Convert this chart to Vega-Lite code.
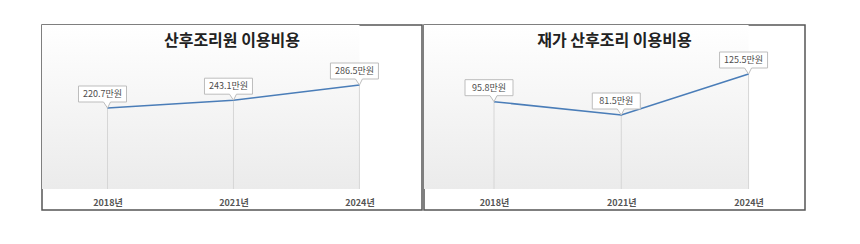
{
  "$schema": "https://vega.github.io/schema/vega-lite/v6.json",
  "padding": {"left": 41, "top": 24, "right": 0, "bottom": 0},
  "background": "#ffffff",
  "spacing": 0,
  "config": {
    "font": "Noto Sans CJK KR",
    "view": {"stroke": "#555555", "strokeWidth": 1.5},
    "title": {"font": "Noto Sans CJK KR", "fontSize": 16, "fontWeight": "bold", "color": "#222222", "anchor": "middle", "baseline": "top", "offset": -24}
  },
  "datasets": {
    "a": [
      {"year": 2018, "value": 220.7, "label": "220.7만원"},
      {"year": 2021, "value": 243.1, "label": "243.1만원"},
      {"year": 2024, "value": 286.5, "label": "286.5만원"}
    ],
    "b": [
      {"year": 2018, "value": 95.8, "label": "95.8만원"},
      {"year": 2021, "value": 81.5, "label": "81.5만원"},
      {"year": 2024, "value": 125.5, "label": "125.5만원"}
    ]
  },
  "hconcat": [
    {
      "width": 380,
      "height": 185,
      "title": {"text": "산후조리원 이용비용"},
      "data": {"name": "a"},
      "encoding": {
        "x": {"field": "year", "type": "quantitative", "scale": {"domain": [2016.44, 2025.49], "nice": false},
          "axis": {"values": [2018, 2021, 2024], "labelExpr": "datum.value + '년'", "title": null, "domain": false, "ticks": false, "grid": false, "labelPadding": -12, "labelFontSize": 9, "labelFontWeight": "bold", "labelColor": "#555555", "labelFont": "Noto Sans CJK KR"}}
      },
      "layer": [
        {
          "mark": {"type": "rect", "fill": {"x1": 0, "y1": 0, "x2": 0, "y2": 1, "gradient": "linear", "stops": [{"offset": 0, "color": "#ffffff"}, {"offset": 1, "color": "#ebebeb"}]}},
          "encoding": {
            "y": {"datum": 458.2, "type": "quantitative", "scale": {"domain": [-71.1, 458.2], "nice": false, "zero": false}, "axis": null},
            "y2": {"datum": -11}
          }
        },
        {
          "mark": {"type": "rule", "color": "#d6d6d6", "strokeWidth": 1},
          "encoding": {
            "y": {"field": "value", "type": "quantitative"},
            "y2": {"datum": -11}
          }
        },
        {
          "mark": {"type": "line", "color": "#4a7db8", "strokeWidth": 1.6},
          "encoding": {"y": {"field": "value", "type": "quantitative"}}
        },
        {
          "mark": {"type": "point", "shape": "M-29,-22 H19 V-6 H3 L0,0 L-4,-6 H-29 Z", "size": 4, "filled": true, "fill": "#ffffff", "stroke": "#bdbdbd", "strokeWidth": 1, "opacity": 1},
          "encoding": {"y": {"field": "value", "type": "quantitative"}}
        },
        {
          "mark": {"type": "text", "dx": -5, "dy": -14, "fontSize": 9, "color": "#4d4d4d", "font": "Noto Sans CJK KR"},
          "encoding": {"y": {"field": "value", "type": "quantitative"}, "text": {"field": "label"}}
        }
      ]
    },
    {
      "width": 381,
      "height": 185,
      "title": {"text": "재가 산후조리 이용비용"},
      "data": {"name": "b"},
      "encoding": {
        "x": {"field": "year", "type": "quantitative", "scale": {"domain": [2016.35, 2025.33], "nice": false},
          "axis": {"values": [2018, 2021, 2024], "labelExpr": "datum.value + '년'", "title": null, "domain": false, "ticks": false, "grid": false, "labelPadding": -12, "labelFontSize": 9, "labelFontWeight": "bold", "labelColor": "#555555", "labelFont": "Noto Sans CJK KR"}}
      },
      "layer": [
        {
          "mark": {"type": "rect", "fill": {"x1": 0, "y1": 0, "x2": 0, "y2": 1, "gradient": "linear", "stops": [{"offset": 0, "color": "#ffffff"}, {"offset": 1, "color": "#ebebeb"}]}},
          "encoding": {
            "y": {"datum": 178.1, "type": "quantitative", "scale": {"domain": [-20.45, 178.1], "nice": false, "zero": false}, "axis": null},
            "y2": {"datum": 2.1}
          }
        },
        {
          "mark": {"type": "rule", "color": "#d6d6d6", "strokeWidth": 1},
          "encoding": {
            "y": {"field": "value", "type": "quantitative"},
            "y2": {"datum": 2.1}
          }
        },
        {
          "mark": {"type": "line", "color": "#4a7db8", "strokeWidth": 1.6},
          "encoding": {"y": {"field": "value", "type": "quantitative"}}
        },
        {
          "mark": {"type": "point", "shape": "M-29,-22 H19 V-6 H3 L0,0 L-4,-6 H-29 Z", "size": 4, "filled": true, "fill": "#ffffff", "stroke": "#bdbdbd", "strokeWidth": 1, "opacity": 1},
          "encoding": {"y": {"field": "value", "type": "quantitative"}}
        },
        {
          "mark": {"type": "text", "dx": -5, "dy": -14, "fontSize": 9, "color": "#4d4d4d", "font": "Noto Sans CJK KR"},
          "encoding": {"y": {"field": "value", "type": "quantitative"}, "text": {"field": "label"}}
        }
      ]
    }
  ]
}
